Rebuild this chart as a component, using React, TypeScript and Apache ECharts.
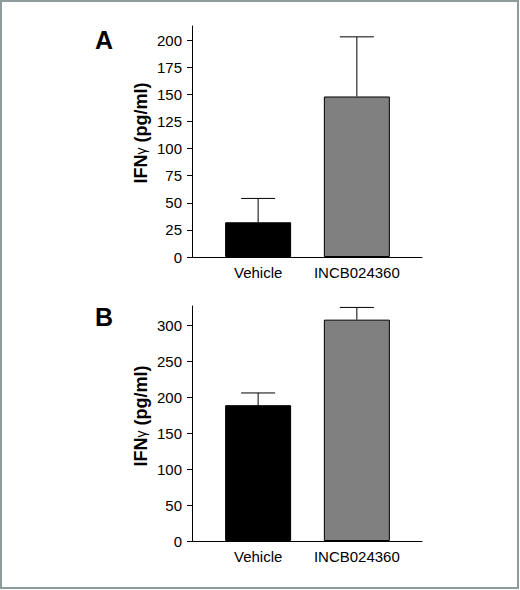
import { useEffect, useRef } from "react";
import * as echarts from "echarts";

const categories = ["Vehicle", "INCB024360"];
const meanA = [32, 148];
const errA = [22, 55];
const meanB = [189, 308];
const errB = [17, 17];
const ticksA = [0, 25, 50, 75, 100, 125, 150, 175, 200];
const ticksB = [0, 50, 100, 150, 200, 250, 300];
const barColors = ["#000000", "#808080"];

const FONT = "'Liberation Sans', Arial, sans-serif";

function barData(means: number[]) {
  return means.map((v, i) => ({ value: [i + 1, v], itemStyle: { color: barColors[i] } }));
}

function errData(means: number[], errs: number[]) {
  return means.map((v, i) => [i + 1, v, v + errs[i]]);
}

const renderErr = (_params: any, api: any) => {
  const base = api.coord([api.value(0), api.value(1)]);
  const top = api.coord([api.value(0), api.value(2)]);
  const style = { stroke: "#000", lineWidth: 1 };
  return {
    type: "group",
    children: [
      { type: "line", shape: { x1: base[0], y1: base[1], x2: top[0], y2: top[1] }, style },
      { type: "line", shape: { x1: top[0] - 17, y1: top[1], x2: top[0] + 17, y2: top[1] }, style }
    ]
  };
};

function xAxisFor(gridIndex: number) {
  return {
    type: "value",
    gridIndex,
    min: 0.33,
    max: 2.66,
    splitLine: { show: false },
    axisLine: { lineStyle: { color: "#000", width: 1 } },
    axisTick: { show: false },
    axisLabel: {
      customValues: [1, 2],
      formatter: (v: number) => categories[Math.round(v) - 1] ?? "",
      color: "#000",
      fontSize: 15,
      fontFamily: FONT,
      margin: 8
    }
  };
}

function yAxisFor(gridIndex: number, max: number, ticks: number[]) {
  return {
    type: "value",
    gridIndex,
    min: 0,
    max,
    splitLine: { show: false },
    axisLine: { show: true, lineStyle: { color: "#000", width: 1 } },
    axisTick: { show: true, length: 5, customValues: ticks, lineStyle: { color: "#000" } },
    axisLabel: { customValues: ticks, color: "#000", fontSize: 15, fontFamily: FONT, margin: 10 }
  };
}

const titleStyle = {
  text: "{b|IFN}{g|γ}{b| (pg/ml)}",
  align: "center",
  verticalAlign: "middle",
  fill: "#000",
  rich: {
    b: { fontWeight: "bold", fontSize: 18, fontFamily: FONT, fill: "#000" },
    g: { fontSize: 14, fontFamily: FONT, fill: "#000" }
  }
};

export default function App() {
  const chartRef = useRef<HTMLDivElement | null>(null);

  useEffect(() => {
    if (!chartRef.current) {
      return;
    }
    const chart = echarts.init(chartRef.current, undefined, { renderer: "svg" });
    chart.setOption({
      animation: false,
      backgroundColor: "#fff",
      grid: [
        { left: 192, top: 26, width: 230, height: 231 },
        { left: 192, top: 306, width: 230, height: 235 }
      ],
      xAxis: [xAxisFor(0), xAxisFor(1)],
      yAxis: [yAxisFor(0, 213, ticksA), yAxisFor(1, 327, ticksB)],
      graphic: [
        {
          type: "rect",
          z: -10,
          shape: { x: 1, y: 1, width: 517, height: 587 },
          style: { fill: "#fff", stroke: "#8e9b9b", lineWidth: 2 }
        },
        {
          type: "text",
          x: 104,
          y: 40,
          style: { text: "A", fontSize: 25, fontWeight: "bold", fontFamily: FONT, fill: "#000", align: "center", verticalAlign: "middle" }
        },
        {
          type: "text",
          x: 104,
          y: 317,
          style: { text: "B", fontSize: 25, fontWeight: "bold", fontFamily: FONT, fill: "#000", align: "center", verticalAlign: "middle" }
        },
        { type: "text", x: 141, y: 133, rotation: Math.PI / 2, style: titleStyle },
        { type: "text", x: 141, y: 416, rotation: Math.PI / 2, style: titleStyle }
      ],
      series: [
        {
          type: "bar",
          xAxisIndex: 0,
          yAxisIndex: 0,
          barWidth: 66,
          data: barData(meanA),
          itemStyle: { borderColor: "#000", borderWidth: 1 }
        },
        { type: "custom", xAxisIndex: 0, yAxisIndex: 0, z: 3, renderItem: renderErr, data: errData(meanA, errA) },
        {
          type: "bar",
          xAxisIndex: 1,
          yAxisIndex: 1,
          barWidth: 66,
          data: barData(meanB),
          itemStyle: { borderColor: "#000", borderWidth: 1 }
        },
        { type: "custom", xAxisIndex: 1, yAxisIndex: 1, z: 3, renderItem: renderErr, data: errData(meanB, errB) }
      ]
    });
    return () => {
      chart.dispose();
    };
  }, []);

  return (
    <div
      ref={chartRef}
      style={{ position: "fixed", left: 0, top: 0, width: 520, height: 590 }}
    />
  );
}
